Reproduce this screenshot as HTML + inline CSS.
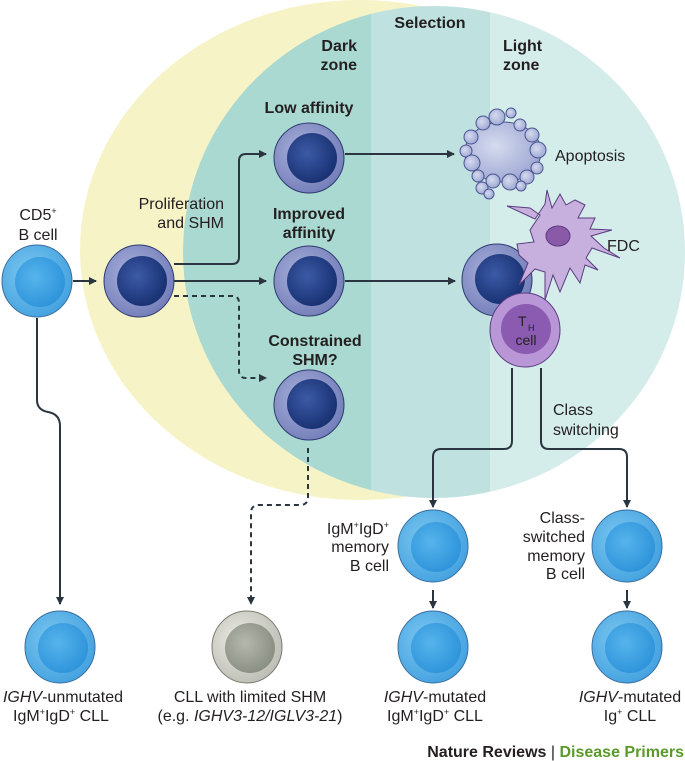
<!DOCTYPE html>
<html><head><meta charset="utf-8"><style>
html,body{margin:0;padding:0;background:#fff;}
svg{display:block;}
text{font-family:"Liberation Sans",sans-serif;fill:#231f20;}
.b{font-weight:bold;}
</style></head><body>
<svg width="685" height="761" viewBox="0 0 685 761" xmlns="http://www.w3.org/2000/svg">
<defs>
<clipPath id="tc"><ellipse cx="434" cy="252" rx="251" ry="246"/></clipPath>
<marker id="ah" markerWidth="8" markerHeight="8" refX="7" refY="4" orient="auto" markerUnits="userSpaceOnUse">
<path d="M0,0 L8,4 L0,8 Z" fill="#2a3540"/></marker>
<radialGradient id="bo" cx="0.4" cy="0.4" r="0.7"><stop offset="0" stop-color="#7cc8f0"/><stop offset="1" stop-color="#3f9ede"/></radialGradient>
<radialGradient id="bi" cx="0.4" cy="0.4" r="0.7"><stop offset="0" stop-color="#56b4ec"/><stop offset="1" stop-color="#2a90d8"/></radialGradient>
<radialGradient id="po" cx="0.4" cy="0.4" r="0.7"><stop offset="0" stop-color="#a9b1da"/><stop offset="1" stop-color="#6e79b6"/></radialGradient>
<radialGradient id="pi" cx="0.4" cy="0.4" r="0.7"><stop offset="0" stop-color="#3c5aa6"/><stop offset="1" stop-color="#142c6c"/></radialGradient>
<radialGradient id="go" cx="0.4" cy="0.4" r="0.7"><stop offset="0" stop-color="#ecece6"/><stop offset="1" stop-color="#b8b9b0"/></radialGradient>
<radialGradient id="gi" cx="0.4" cy="0.4" r="0.7"><stop offset="0" stop-color="#b5b8ad"/><stop offset="1" stop-color="#858a7e"/></radialGradient>
<radialGradient id="ap" cx="0.4" cy="0.4" r="0.7"><stop offset="0" stop-color="#d6dbef"/><stop offset="1" stop-color="#98a2d0"/></radialGradient>
</defs>

<ellipse cx="360" cy="250" rx="280" ry="250" fill="#f6f3c7"/>
<g clip-path="url(#tc)">
<rect x="150" y="0" width="222" height="520" fill="#a9d9d1"/>
<rect x="371" y="0" width="119" height="520" fill="#bfe2e0"/>
<rect x="490" y="0" width="200" height="520" fill="#d4ecea"/>
</g>

<text x="430" y="28" text-anchor="middle" class="b" font-size="16">Selection</text>
<text x="357" y="51" text-anchor="end" class="b" font-size="16">Dark</text>
<text x="357" y="70" text-anchor="end" class="b" font-size="16">zone</text>
<text x="503" y="51" class="b" font-size="16">Light</text>
<text x="503" y="70" class="b" font-size="16">zone</text>

<text x="309" y="113" text-anchor="middle" class="b" font-size="16">Low affinity</text>
<text x="309" y="219" text-anchor="middle" class="b" font-size="16">Improved</text>
<text x="309" y="238" text-anchor="middle" class="b" font-size="16">affinity</text>
<text x="315" y="346" text-anchor="middle" class="b" font-size="16">Constrained</text>
<text x="315" y="365" text-anchor="middle" class="b" font-size="16">SHM?</text>

<text x="224" y="209" text-anchor="end" font-size="16">Proliferation</text>
<text x="224" y="228" text-anchor="end" font-size="16">and SHM</text>
<text x="38" y="220" text-anchor="middle" font-size="16">CD5<tspan font-size="9" dy="-6">+</tspan></text>
<text x="38" y="240" text-anchor="middle" font-size="16">B cell</text>

<g fill="none" stroke="#2a3540" stroke-width="2">
<path d="M73,281 L96,281" marker-end="url(#ah)"/>
<path d="M174,264 L232,264 Q239,264 239,257 L239,161 Q239,154 246,154 L266,154" marker-end="url(#ah)"/>
<path d="M174,281 L266,281" marker-end="url(#ah)"/>
<path d="M174,296 L232,296 Q239,296 239,303 L239,371 Q239,378 246,378 L266,378" stroke-dasharray="5,4" marker-end="url(#ah)"/>
<path d="M345,154 L454,154" marker-end="url(#ah)"/>
<path d="M345,281 L455,281" marker-end="url(#ah)"/>
<path d="M37,318 L37,400 Q37,410 48,412 Q60,414 60,426 L60,604" marker-end="url(#ah)"/>
<path d="M308,448 L308,497 Q308,505 300,505 L259,505 Q251,505 251,513 L251,604" stroke-dasharray="5,4" marker-end="url(#ah)"/>
<path d="M512,368 L512,441 Q512,449 504,449 L441,449 Q433,449 433,457 L433,507" marker-end="url(#ah)"/>
<path d="M541,368 L541,441 Q541,449 549,449 L619,449 Q627,449 627,457 L627,507" marker-end="url(#ah)"/>
<path d="M433,590 L433,608" marker-end="url(#ah)"/>
<path d="M627,590 L627,608" marker-end="url(#ah)"/>
</g>

<g stroke="#3a6ea0" stroke-width="1">
<ellipse cx="37" cy="281" rx="35" ry="36" fill="url(#bo)"/>
<ellipse cx="40" cy="282" rx="25" ry="25" fill="url(#bi)" stroke="none"/>
</g>
<g stroke="#2e3a70" stroke-width="1">
<ellipse cx="139" cy="281" rx="35" ry="36" fill="url(#po)"/>
<circle cx="142" cy="281" r="25" fill="url(#pi)" stroke="none"/>
<ellipse cx="309" cy="158" rx="35" ry="35" fill="url(#po)"/>
<circle cx="312" cy="158" r="25" fill="url(#pi)" stroke="none"/>
<ellipse cx="309" cy="281" rx="35" ry="35" fill="url(#po)"/>
<circle cx="312" cy="281" r="25" fill="url(#pi)" stroke="none"/>
<ellipse cx="309" cy="405" rx="35" ry="35" fill="url(#po)"/>
<circle cx="312" cy="404" r="25" fill="url(#pi)" stroke="none"/>
<ellipse cx="497" cy="280" rx="35" ry="36" fill="url(#po)"/>
<circle cx="500" cy="279" r="25" fill="url(#pi)" stroke="none"/>
</g>

<g stroke="#4a5590" stroke-width="1" fill="url(#ap)">
<ellipse cx="503" cy="152" rx="38" ry="30"/>
<circle cx="471" cy="137" r="7"/><circle cx="466" cy="151" r="6"/><circle cx="472" cy="163" r="8"/>
<circle cx="483" cy="123" r="7"/><circle cx="497" cy="117" r="8"/><circle cx="511" cy="113" r="5"/>
<circle cx="520" cy="125" r="6"/><circle cx="532" cy="135" r="7"/><circle cx="538" cy="150" r="8"/>
<circle cx="537" cy="168" r="6"/><circle cx="527" cy="177" r="7"/><circle cx="510" cy="182" r="8"/>
<circle cx="493" cy="181" r="7"/><circle cx="482" cy="188" r="6"/><circle cx="489" cy="194" r="5"/>
<circle cx="478" cy="176" r="6"/><circle cx="521" cy="186" r="5"/>
</g>
<text x="555" y="161" font-size="16">Apoptosis</text>

<g stroke="#5a3c80" stroke-width="1">
<path d="M540,215 L530,208 L507,206 L535,219 L545,204 L547,190 L552,208 L560,194 L566,205 L575,200 L585,205 L578,218 L595,218 L590,229 L612,230 L591,236 L604,248 L620,258 L592,248 L586,258 L598,270 L585,265 L580,283 L570,268 L560,292 L553,275 L545,300 L545,272 L535,269 L519,285 L528,263 L519,255 L517,244 L534,242 L530,230 Z" fill="#c7b0de"/>
<ellipse cx="558" cy="236" rx="12" ry="10" fill="#8a5aa8"/>
</g>
<text x="607" y="251" font-size="16">FDC</text>

<g stroke="#5a3c80" stroke-width="1">
<ellipse cx="525" cy="330" rx="35" ry="37" fill="#b996d6"/>
<circle cx="526" cy="329" r="25" fill="#8a5bb0" stroke="none"/>
</g>
<text x="518" y="326" font-size="14">T</text><text x="528" y="331" font-size="9">H</text>
<text x="526" y="345" text-anchor="middle" font-size="14">cell</text>

<text x="553" y="415" font-size="16">Class</text>
<text x="553" y="435" font-size="16">switching</text>

<g stroke="#3a6ea0" stroke-width="1">
<ellipse cx="433" cy="546" rx="35" ry="36" fill="url(#bo)"/>
<circle cx="436" cy="547" r="25" fill="url(#bi)" stroke="none"/>
<ellipse cx="627" cy="546" rx="35" ry="36" fill="url(#bo)"/>
<circle cx="630" cy="547" r="25" fill="url(#bi)" stroke="none"/>
<ellipse cx="60" cy="647" rx="35" ry="36" fill="url(#bo)"/>
<circle cx="63" cy="648" r="25" fill="url(#bi)" stroke="none"/>
<ellipse cx="433" cy="647" rx="35" ry="36" fill="url(#bo)"/>
<circle cx="436" cy="648" r="25" fill="url(#bi)" stroke="none"/>
<ellipse cx="627" cy="647" rx="35" ry="36" fill="url(#bo)"/>
<circle cx="630" cy="648" r="25" fill="url(#bi)" stroke="none"/>
</g>
<g stroke="#7a7b70" stroke-width="1">
<ellipse cx="247" cy="647" rx="35" ry="36" fill="url(#go)"/>
<circle cx="250" cy="648" r="25" fill="url(#gi)" stroke="none"/>
</g>

<text x="389" y="534" text-anchor="end" font-size="16">IgM<tspan font-size="9" dy="-6">+</tspan><tspan dy="6">IgD</tspan><tspan font-size="9" dy="-6">+</tspan></text>
<text x="389" y="552" text-anchor="end" font-size="16">memory</text>
<text x="389" y="571" text-anchor="end" font-size="16">B cell</text>
<text x="585" y="523" text-anchor="end" font-size="16">Class-</text>
<text x="585" y="542" text-anchor="end" font-size="16">switched</text>
<text x="585" y="561" text-anchor="end" font-size="16">memory</text>
<text x="585" y="579" text-anchor="end" font-size="16">B cell</text>

<text x="63" y="702" text-anchor="middle" font-size="16"><tspan font-style="italic">IGHV</tspan>-unmutated</text>
<text x="61" y="721" text-anchor="middle" font-size="16">IgM<tspan font-size="9" dy="-6">+</tspan><tspan dy="6">IgD</tspan><tspan font-size="9" dy="-6">+</tspan><tspan dy="6"> CLL</tspan></text>
<text x="250" y="702" text-anchor="middle" font-size="16">CLL with limited SHM</text>
<text x="250" y="721" text-anchor="middle" font-size="16">(e.g. <tspan font-style="italic">IGHV3-12/IGLV3-21</tspan>)</text>
<text x="435" y="702" text-anchor="middle" font-size="16"><tspan font-style="italic">IGHV</tspan>-mutated</text>
<text x="435" y="721" text-anchor="middle" font-size="16">IgM<tspan font-size="9" dy="-6">+</tspan><tspan dy="6">IgD</tspan><tspan font-size="9" dy="-6">+</tspan><tspan dy="6"> CLL</tspan></text>
<text x="630" y="702" text-anchor="middle" font-size="16"><tspan font-style="italic">IGHV</tspan>-mutated</text>
<text x="630" y="721" text-anchor="middle" font-size="16">Ig<tspan font-size="9" dy="-6">+</tspan><tspan dy="6"> CLL</tspan></text>

<text x="684" y="757" text-anchor="end" class="b" font-size="16">Nature Reviews <tspan font-weight="normal">|</tspan> <tspan fill="#5a9a2a">Disease Primers</tspan></text>
</svg>
</body></html>
